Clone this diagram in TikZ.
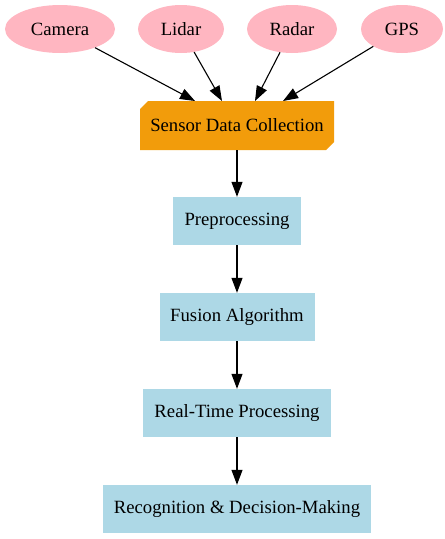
\documentclass[tikz,border=0pt]{standalone}
\usepackage{fontspec}
\setmainfont{Liberation Serif}
\usetikzlibrary{arrows.meta,shapes.geometric}

\definecolor{sensorpink}{HTML}{FFB6C1}
\definecolor{collectorange}{HTML}{F29C0B}
\definecolor{stageblue}{HTML}{ADD8E6}

\tikzset{
  sensor/.style={ellipse,fill=sensorpink,minimum height=48pt,inner sep=0pt},
  stage/.style={rectangle,fill=stageblue,minimum height=48pt,inner sep=0pt},
  flow/.style={line width=1.1pt,-{Triangle[length=15pt,width=11pt]}}
}

\begin{document}
\begin{tikzpicture}[x=1pt,y=-1pt,font=\fontsize{18.7}{22}\selectfont]
\useasboundingbox (0,0) rectangle (445,539);

% sensors on top
\foreach \name/\txt/\x/\w in {cam/Camera/60/110,lid/Lidar/181/86,rad/Radar/292/90,gps/GPS/402/82}
{
\node[sensor,minimum width=\w pt] (\name) at (\x,29) {\txt};
}

% collection node with cut corners
\fill[collectorange] (148,101)--(334,101)--(334,142)--(326,150)--(140,150)--(140,109)--cycle;
\node[inner sep=0pt,minimum width=194pt,minimum height=49pt] (sdc) at (237,125.5) {Sensor Data Collection};

\node[stage,minimum width=128pt] (pre) at (237,221) {Preprocessing};
\node[stage,minimum width=155pt] (fus) at (237,317) {Fusion Algorithm};
\node[stage,minimum width=188pt] (rtp) at (237,413) {Real-Time Processing};
\node[stage,minimum width=268pt] (rec) at (237,509) {Recognition \& Decision-Making};

\coordinate (t1) at (195,101);
\coordinate (t2) at (222,101);
\coordinate (t3) at (255,101);
\coordinate (t4) at (283,101);

\draw[flow] (cam)--(t1);
\draw[flow] (lid)--(t2);
\draw[flow] (rad)--(t3);
\draw[flow] (gps)--(t4);
\draw[flow] (sdc)--(pre);
\draw[flow] (pre)--(fus);
\draw[flow] (fus)--(rtp);
\draw[flow] (rtp)--(rec);
\end{tikzpicture}
\end{document}
